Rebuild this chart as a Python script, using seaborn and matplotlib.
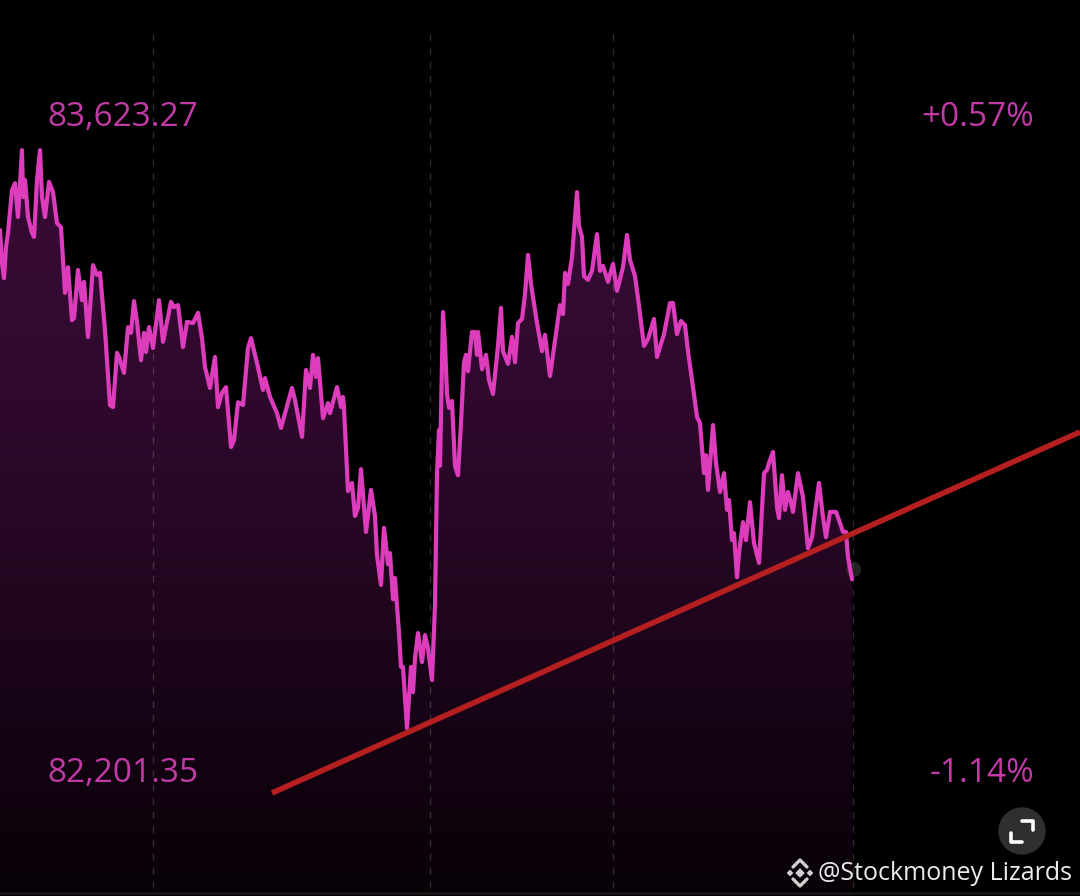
"""Intraday price line with gradient fill and a hand-drawn support line."""

import numpy as np
import pandas as pd
import matplotlib.pyplot as plt
import seaborn as sns
from matplotlib.colors import LinearSegmentedColormap
from matplotlib.patches import Circle, PathPatch
from matplotlib.path import Path

minutes = [
    0, 2, 4, 6, 8, 12, 15, 18, 22, 23, 25, 28, 32, 34, 37, 40, 42, 45, 49, 53, 57, 61, 65, 68, 72,
    74, 78, 82, 84, 88, 93, 97, 100, 105, 110, 113, 117, 119, 124, 128, 131, 134, 137, 141, 144,
    146, 149, 153, 159, 163, 171, 174, 178, 183, 187, 193, 198, 202, 205, 210, 215, 218, 222, 226,
    231, 234, 238, 243, 248, 251, 257, 263, 265, 270, 277, 281, 285, 292, 295, 302, 306, 310, 313,
    316, 318, 323, 328, 330, 337, 341, 343,
    344, 348, 352, 355, 358, 361, 366, 371, 375, 377, 381, 384, 388, 390, 393, 395, 399, 401, 403,
    407, 411, 413, 415, 418, 422, 425, 428, 432, 435, 437, 439, 440, 443, 445, 447, 449, 452, 455,
    458, 461, 464, 466, 468, 472, 475, 477, 478, 482, 486, 489, 493, 498, 501, 503, 508, 512, 515,
    518, 522, 525, 528, 531, 537, 542, 545, 550, 553, 560, 563, 565, 568, 572, 577, 579, 582, 584,
    588, 592, 597, 600, 603, 608, 613, 617, 623, 627, 630, 635, 638, 642, 644, 648, 654, 657, 664,
    670, 673, 677, 681, 685, 688, 693,
    697, 700, 704, 706, 708, 713, 716, 720, 724, 727, 729, 732, 734, 737, 739, 743, 746, 750, 754,
    759, 764, 767, 769, 773, 777, 779, 782, 785, 788, 791, 793, 798, 803, 808, 812, 815, 819, 823,
    826, 830, 836, 840, 843, 846, 848, 852,
]
prices = [
    83427, 83346, 83309, 83385, 83420, 83525, 83542, 83459, 83623, 83508, 83550, 83459, 83420,
    83410, 83550, 83623, 83508, 83459, 83545, 83520, 83444, 83434, 83273, 83336, 83206, 83211,
    83329, 83255, 83300, 83165, 83341, 83317, 83322, 83182, 82998, 82993, 83126, 83116, 83077,
    83189, 83175, 83253, 83202, 83108, 83175, 83128, 83189, 83138, 83255, 83153, 83251, 83238,
    83243, 83140, 83202, 83199, 83224, 83162, 83091, 83040, 83116, 82993, 83028, 83042, 82895,
    82912, 83005, 82998, 83138, 83162, 83101, 83035, 83064, 83018, 82978, 82942, 82978, 83040,
    83010, 82920, 83084, 83040, 83121, 83067, 83113, 82966, 83003, 82978, 83042, 82993, 83018,
    82991, 82787, 82807, 82726, 82746, 82841, 82687, 82790, 82726, 82630, 82557, 82697, 82608,
    82635, 82522, 82574, 82439, 82356, 82356, 82206, 82356, 82294, 82378, 82439, 82368, 82434,
    82402, 82324, 82508, 82831, 82937, 82849, 83226, 83148, 83025, 82991, 83008, 82849, 82826,
    82954, 83103, 83121, 83081, 83177, 83177, 83121, 83177, 83086, 83121, 83059, 83025, 83143,
    83236, 83130, 83099, 83165, 83103, 83199, 83209, 83270, 83366, 83295, 83199, 83130, 83170,
    83069, 83121, 83243, 83221, 83322, 83295, 83361, 83520, 83437, 83410, 83314, 83305, 83327,
    83417, 83327, 83339, 83300, 83344, 83278, 83336, 83415, 83354, 83314, 83260, 83182, 83143,
    83160, 83209, 83116, 83172, 83248, 83248, 83172, 83204, 83194, 83130, 83042,
    82969, 82954, 82831, 82875, 82790, 82949, 82856, 82785, 82831, 82741, 82765, 82667, 82684,
    82576, 82635, 82711, 82667, 82760, 82660, 82611, 82831, 82839, 82856, 82883, 82748, 82721,
    82826, 82741, 82785, 82758, 82736, 82831, 82772, 82647, 82674, 82733, 82807, 82723, 82674,
    82736, 82736, 82709, 82687, 82687, 82625, 82571,
]
grid_minutes = [153, 430, 613, 853]
support_minutes = [272, 1080]
support_prices = [82047, 82932]
high_label = "83,623.27"
low_label = "82,201.35"
high_pct = "+0.57%"
low_pct = "-1.14%"
watermark = "@Stockmoney Lizards"

LINE = "#dd3dbd"
LABEL = "#c23aa6"
RED = "#b51f20"

sns.set_theme(style="dark", rc={"axes.facecolor": "black", "figure.facecolor": "black"})
plt.rcParams["font.family"] = ["Open Sans", "DejaVu Sans"]

df = pd.DataFrame({"minute": minutes, "price": prices})

fig = plt.figure(figsize=(10.8, 8.96), dpi=100)
ax = fig.add_axes([0, 0, 1, 1])
x_lim = (0, 1080)
y_lim = (81794.4, 83991.0)

# gradient under the line, clipped to the area below the price
fade = LinearSegmentedColormap.from_list(
    "fade", ["#380b36", "#320a30", "#280725", "#170416", "#080107"]
)
grad = ax.imshow(
    np.linspace(0, 1, 256).reshape(-1, 1),
    cmap=fade,
    aspect="auto",
    origin="upper",
    extent=(0, 852, y_lim[0], 83623),
    zorder=1,
)
verts = [(minutes[0], y_lim[0])] + list(zip(minutes, prices)) + [(minutes[-1], y_lim[0])]
clip = PathPatch(Path(verts + [verts[0]]), transform=ax.transData, fc="none", ec="none")
ax.add_patch(clip)
grad.set_clip_path(clip)

for m in grid_minutes:
    ax.plot([m, m], [y_lim[0] + 20, 83917], color="white", alpha=0.17, lw=1,
            dashes=(5, 5), zorder=2)

sns.lineplot(data=df, x="minute", y="price", color=LINE, lw=3, ax=ax, zorder=3,
             estimator=None, sort=False)
ax.plot(support_minutes, support_prices, color=RED, lw=4, zorder=4, solid_capstyle="butt")

# end of line dot
ax.scatter([853], [82596], s=120, color="#333333", alpha=0.7, zorder=2.5, linewidths=0)

ax.set_xlim(x_lim)
ax.set_ylim(y_lim)
ax.set_axis_off()

ax.text(47 / 1080, 1 - 117 / 896, high_label, transform=ax.transAxes, color=LABEL,
        fontsize=24, ha="left", va="center")
ax.text(47 / 1080, 1 - 773 / 896, low_label, transform=ax.transAxes, color=LABEL,
        fontsize=24, ha="left", va="center")
ax.text(1034 / 1080, 1 - 117 / 896, high_pct, transform=ax.transAxes, color=LABEL,
        fontsize=24, ha="right", va="center")
ax.text(1034 / 1080, 1 - 773 / 896, low_pct, transform=ax.transAxes, color=LABEL,
        fontsize=24, ha="right", va="center")

# expand button, drawn in pixel space
px = fig.add_axes([0, 0, 1, 1], facecolor="none")
px.set_xlim(0, 1080)
px.set_ylim(896, 0)
px.set_axis_off()
px.add_patch(Circle((1022, 831), 23, color="#2f2f2f", zorder=5))
px.plot([1011, 1011, 1022], [833, 842, 842], color="white", lw=2.6, zorder=6)
px.plot([1022, 1033, 1033], [821, 821, 830], color="white", lw=2.6, zorder=6)

# exchange logo and watermark
px.scatter([800, 790, 810], [873, 873, 873], marker="D", s=[24, 12, 12], color="#d0d0d0",
           linewidths=0, zorder=6)
px.plot([793, 800, 807], [867, 860, 867], color="#d0d0d0", lw=2.4, zorder=6)
px.plot([793, 800, 807], [879, 886, 879], color="#d0d0d0", lw=2.4, zorder=6)
px.text(818, 873, watermark, color="#ececec", fontsize=18, ha="left", va="center", zorder=6)

px.plot([0, 1080], [893.5, 893.5], color="#161616", lw=2, zorder=6)

fig.savefig("out.png", dpi=100, facecolor="black")
